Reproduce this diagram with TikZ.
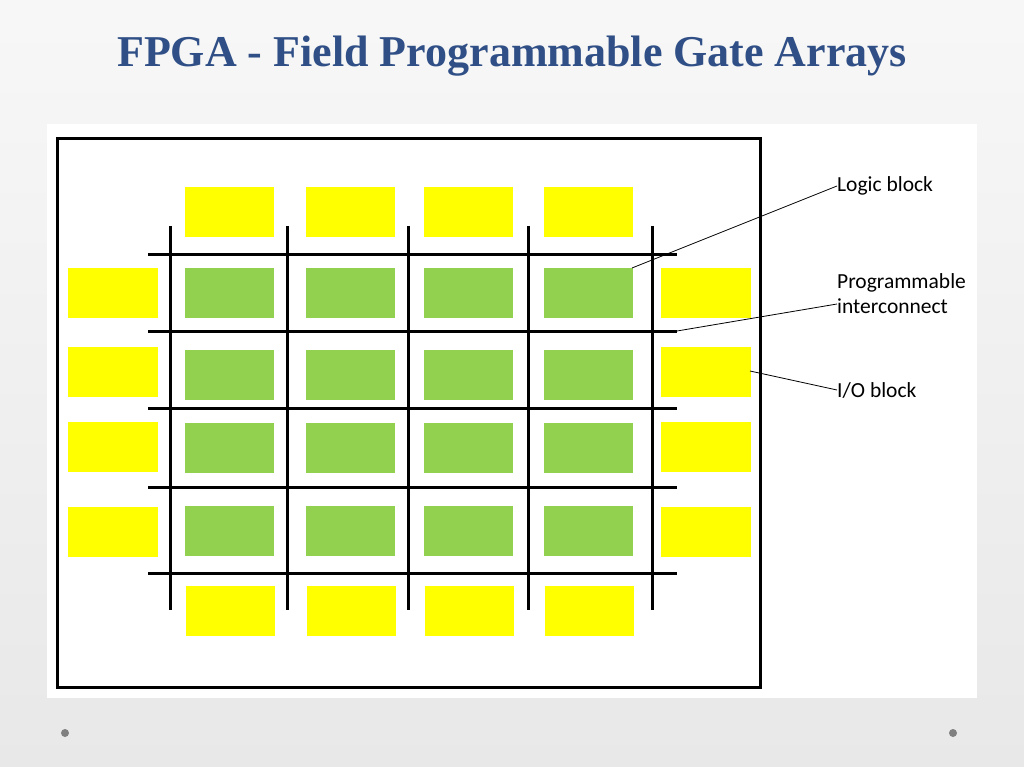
\documentclass[tikz,border=0pt]{standalone}
\usepackage{fontspec}
\setmainfont{Liberation Serif}
\newfontfamily\lbl{Carlito}
\definecolor{ttl}{HTML}{2F4F86}
\definecolor{gr}{HTML}{92D050}
\definecolor{yl}{HTML}{FFFF00}
\begin{document}
\begin{tikzpicture}[x=1pt,y=-1pt,
  lb/.style={fill=gr,draw=none},
  io/.style={fill=yl,draw=none},
  wire/.style={line width=3pt},
  lab/.style={font=\lbl\fontsize{21.5}{26}\selectfont,anchor=west,align=left,inner sep=0pt},
  lead/.style={line width=0.8pt}]
\shade[top color=black!3,bottom color=black!9] (0,0) rectangle (1024,767);
\useasboundingbox (0,0) rectangle (1024,767);
\node[text=ttl,font=\bfseries\fontsize{44}{50}\selectfont] (title) at (512,56) {FPGA - Field Programmable Gate Arrays};
\fill[white] (47,124) rectangle (977,698);
\draw[line width=3pt] (57,139) rectangle (760,687);
\fill[black!50] (65,733) circle (4) (953,733) circle (4);
% blocks
\foreach \x [count=\i] in {185,306,424,544}{
  \foreach \y [count=\j] in {268,350,423,506}{
    \fill[lb] (\x,\y) rectangle ++(89,50);}
  \fill[io] (\x,187) rectangle ++(89,50);
  \fill[io] (\x+1,586) rectangle ++(89,50);}
\foreach \y in {268,347,422,507}{
  \fill[io] (68,\y) rectangle ++(90,50);
  \fill[io] (661,\y) rectangle ++(90,50);}
\coordinate (lbk) at (632,268);
\coordinate (iob) at (750,371);
% wires
\foreach \y in {254,331,408,487,573}{\draw[wire] (148,\y) -- (677,\y);}
\foreach \x in {170,287,408,528,652}{\draw[wire] (\x,226) -- (\x,610);}
\coordinate (pic) at (677,331);
% labels
\node[lab] (l1) at (837,186) {Logic block};
\node[lab] (l2) at (837,294) {Programmable\\[-1pt]interconnect};
\node[lab] (l3) at (837,390) {I/O block};
\draw[lead] (l1.west) -- (lbk);
\draw[lead] (l2.west)+(0,10) -- (pic);
\draw[lead] (l3.west) -- (iob);
\end{tikzpicture}
\end{document}
